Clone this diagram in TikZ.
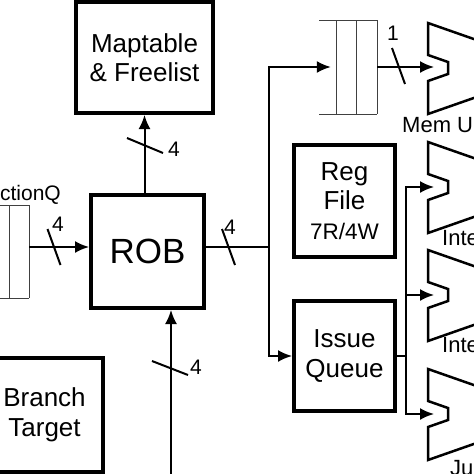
\documentclass[tikz,border=0pt]{standalone}
\usepackage{fontspec}
\setmainfont{Liberation Sans}
\usetikzlibrary{arrows.meta}
\tikzset{
  unitbox/.style={draw, line width=4pt, inner sep=0pt, align=center, font=\fontsize{26}{29.5}\selectfont},
  wire/.style={line width=2pt},
  feed/.style={wire, -{Latex[length=14pt,width=12pt]}},
  busmark/.style={line width=2pt},
  buslabel/.style={font=\fontsize{21}{21}\selectfont, inner sep=0pt},
  qline/.style={line width=1pt, black!75},
  alu/.style={line width=2.5pt, line join=miter},
  unitlabel/.style={font=\fontsize{22}{22}\selectfont, anchor=base west, inner sep=0pt},
}
\begin{document}
\begin{tikzpicture}[x=1pt,y=-1pt]
\useasboundingbox (0,0) rectangle (474,474);
\clip (0,0) rectangle (474,474);
% boxes
\node[unitbox, minimum width=137pt, minimum height=111pt] (maptable) at (144.5,57.5) {Maptable\\\& Freelist};
\node[unitbox, minimum width=113pt, minimum height=113pt, font=\fontsize{35}{38}\selectfont] (rob) at (147.5,251.5) {ROB};
\node[unitbox, minimum width=101pt, minimum height=112pt] (regfile) at (344.5,201) {Reg\\File\\{\fontsize{22.5}{27}\selectfont 7R/4W}};
\node[unitbox, minimum width=101pt, minimum height=110pt] (issueq) at (344.5,356) {Issue\\Queue};
\node[unitbox, minimum width=117pt, minimum height=114pt] (branch) at (44.5,415) {Branch\\Target};
% queues
\node[minimum width=40pt, minimum height=93pt, inner sep=0pt] (instrq) at (9,251.5) {};
\draw[qline] (-30,205) -- (29,205) (-30,298) -- (29,298);
\foreach \x in {-11,9,29} \draw[qline] (\x,205) -- (\x,298);
\node[unitlabel, anchor=base east, font=\fontsize{21}{21}\selectfont] (instrqlbl) at (61,200) {InstructionQ};
\node[minimum width=41pt, minimum height=94pt, inner sep=0pt] (memq) at (356.5,67) {};
\draw[qline] (319,20) -- (377,20) (319,114) -- (377,114);
\foreach \x in {336,356,377} \draw[qline] (\x,20) -- (\x,114);
% execution units
\foreach \yy/\nm/\lab/\dx/\dy in {23/mem/Mem Unit/-26/109, 142/intA/Integer Unit/14/103, 250/intB/Integer Unit/14/102, 369/jump/Jump Unit/22/106} {
  \draw[alu] (428,\yy) -- ++(0,32) -- ++(20,7) -- ++(0,12) -- ++(-20,7) -- ++(0,33) -- ++(100,-35) -- ++(0,-21) -- cycle;
  \coordinate (\nm) at (434,\yy+45);
  \node[unitlabel] (\nm lbl) at (428+\dx,\yy+\dy) {\lab};
}
% connections
\coordinate (split) at (269,247);
\coordinate (iqsplit) at (406,356);
\coordinate (robfeed) at (171,480);
\draw[feed] (maptable.south |- rob.north) -- (maptable.south);
\draw[feed] ([yshift=4.5pt]instrq.east) -- ([yshift=4.5pt]rob.west);
\draw[feed] (robfeed) -- (robfeed |- rob.south);
\draw[feed, shorten >=5pt] ([yshift=4.5pt]rob.east) -- (split) |- (memq.west);
\draw[feed] (split) |- (issueq.west);
\draw[feed] (memq.east) -- (memq.east -| mem);
\draw[wire] (issueq.east) -- (iqsplit);
\draw[feed] (iqsplit) |- (intA);
\draw[feed] (iqsplit) |- (intB);
\draw[feed] (iqsplit) |- (jump);
% bus widths
\draw[busmark] (127,138) -- (163,153);
\node[buslabel] (mapw) at (174,149) {4};
\draw[busmark] (47.5,229) -- (60.5,265);
\node[buslabel] (instrw) at (58,224) {4};
\draw[busmark] (222,229) -- (235,265);
\node[buslabel] (robw) at (230,227) {4};
\draw[busmark] (392,48) -- (405,84);
\node[buslabel] (memw) at (393,33) {1};
\draw[busmark] (152,361) -- (188,375);
\node[buslabel] (feedw) at (196,367) {4};
\end{tikzpicture}
\end{document}
